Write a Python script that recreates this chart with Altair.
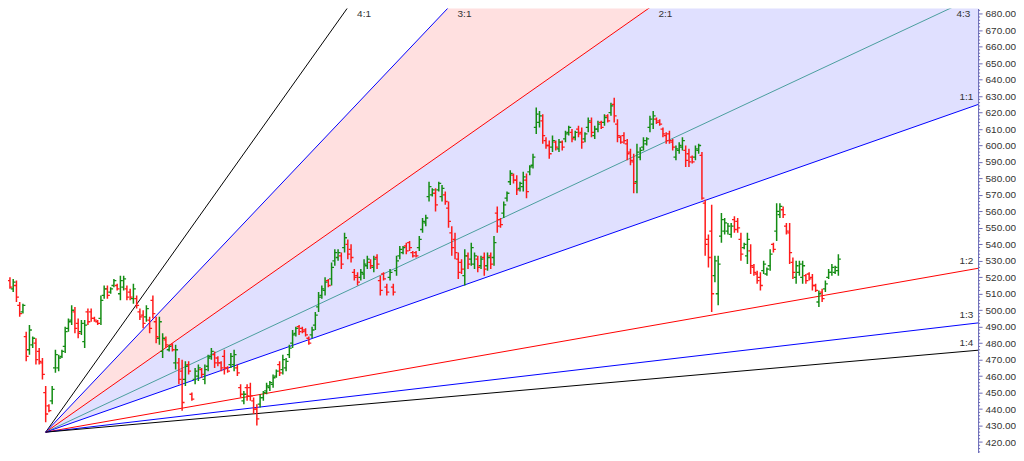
import altair as alt
import pandas as pd

# ---- OHLC data (price), one entry per daily bar ----
highs = [520,519,518,505,504,487,491,484,483,477,471,454,443,454,476,473,476,490,495,503,
         502,495,494,494,501,501,496,494,509,515,515,514,519,516,521,521,515,513,516,509,
         501,500,503,496,509,496,496,486,484,479,480,479,471,470,469,469,450,465,467,465,
         467,473,477,475,472,469,476,466,474,476,467,455,451,455,456,447,443,449,451,456,
         457,461,464,469,473,471,479,488,490,491,490,489,484,490,499,511,515,520,519,529,
         537,537,535,547,543,540,525,523,525,531,533,531,533,534,521,523,516,525,516,533,
         539,539,541,542,536,536,545,556,558,578,574,574,578,576,572,566,551,547,535,531,
         537,535,541,535,533,533,535,535,535,545,563,556,566,572,585,583,582,578,584,583,
         588,595,623,621,619,605,603,606,603,604,603,609,612,610,609,612,611,608,617,617,
         612,615,615,619,619,626,629,616,606,608,604,598,595,601,599,605,605,618,621,617,
         616,611,608,609,604,600,602,605,600,598,594,600,601,596,567,546,564,533,533,559,
         556,553,553,557,556,547,541,547,540,528,524,523,530,526,537,541,565,565,563,553,
         553,532,530,530,530,522,523,522,516,512,513,518,525,528,527,534]
lows = [513,511,505,496,498,469,473,477,467,467,458,432,438,443,462,463,471,474,487,491,
        486,483,485,477,491,493,493,491,491,507,507,510,514,512,506,512,506,506,504,501,
        494,489,493,486,495,480,479,471,477,475,475,464,455,439,454,461,445,455,457,459,
        455,463,470,465,466,463,461,462,465,463,460,447,443,445,445,437,430,441,445,449,
        451,453,459,460,461,463,471,477,484,485,486,484,479,483,488,499,507,509,514,515,
        527,530,525,535,531,529,518,515,518,519,525,525,523,525,509,518,509,518,509,521,
        531,534,534,536,532,532,536,547,551,566,569,560,572,566,564,550,533,531,519,522,
        515,525,527,525,523,525,521,524,525,527,547,550,556,566,576,577,570,572,572,568,
        582,586,607,611,601,598,592,596,597,596,597,602,606,602,603,605,598,602,608,605,
        604,608,610,612,614,618,614,602,601,601,591,588,571,571,591,597,600,608,610,613,
        612,605,601,601,597,591,595,597,587,587,589,591,595,567,533,526,499,517,503,541,
        546,546,544,547,547,530,537,528,522,521,516,512,522,521,524,535,542,556,556,546,
        528,519,516,521,516,516,518,512,511,502,505,511,519,521,522,521]
opens = [518,513,515,503,499,484,476,479,480,475,468,450,442,445,465,465,472,478,489,494,
         499,492,487,481,499,499,495,493,495,509,513,511,515,515,510,514,513,511,507,507,
         499,497,496,494,506,493,483,475,482,476,479,468,468,463,458,467,449,458,460,464,
         458,466,472,473,471,468,472,465,467,467,465,453,445,453,453,445,440,443,447,451,
         453,455,460,467,464,465,473,480,486,490,489,488,483,485,491,502,509,512,518,519,
         530,532,533,538,540,537,523,521,520,522,527,529,526,532,518,522,514,520,514,524,
         533,535,539,541,535,535,538,549,553,569,570,571,573,569,570,562,547,543,531,529,
         521,533,531,528,531,527,532,527,533,532,559,555,559,568,578,582,579,574,575,579,
         584,588,611,614,615,603,600,599,602,598,602,604,608,608,605,610,608,604,611,614,
         606,610,614,614,618,620,625,613,605,606,601,596,590,578,593,599,601,611,613,616,
         615,610,606,607,602,593,597,599,597,595,593,593,597,594,565,543,548,521,510,545,
         548,548,546,555,554,543,538,533,536,526,522,520,524,522,527,540,548,558,561,551,
         547,529,520,523,520,521,522,520,515,505,511,513,520,523,523,524]
closes = [514,517,508,498,503,472,488,483,470,469,461,437,439,452,473,471,475,487,493,500,
          489,486,492,491,493,495,494,492,506,513,509,513,518,513,518,519,508,508,513,503,
          496,492,501,489,498,484,493,483,479,478,476,476,458,444,466,463,446,463,465,461,
          464,471,475,468,468,465,465,463,472,473,462,449,449,448,448,440,434,447,450,454,
          456,459,463,462,470,469,477,485,489,487,487,485,480,488,497,508,513,517,515,526,
          535,535,528,544,534,532,520,517,523,528,531,527,531,528,512,519,511,523,511,530,
          537,538,536,538,533,533,543,554,556,575,573,564,577,574,566,554,538,535,523,525,
          533,528,538,533,526,531,525,532,528,541,551,552,564,571,583,579,573,577,581,572,
          587,593,619,618,606,600,595,603,599,602,599,607,611,604,608,607,602,607,615,608,
          610,613,611,617,615,624,618,606,602,603,595,591,577,596,597,603,604,616,618,614,
          613,607,603,603,599,598,600,603,591,590,590,598,600,568,540,532,510,530,528,555,
          553,551,551,549,550,534,540,543,527,523,518,515,528,525,534,537,560,563,558,548,
          535,523,527,528,527,518,519,515,512,510,507,516,523,526,526,531]

# ---- Gann fan ----
fan_origin_bar = 11
fan_origin_price = 426
unit_slope = 0.693          # price per bar of the 1:1 line
fan_names = ["4:1", "3:1", "2:1", "4:3", "1:1", "1:2", "1:3", "1:4"]
fan_ratios = [4.0, 3.0, 2.0, 4 / 3, 1.0, 0.5, 1 / 3, 0.25]
fan_colors = ["#000000", "#0000ff", "#ff0000", "#4a9e9e", "#0000ff", "#ff0000", "#0000ff", "#000000"]

price_ticks = list(range(420, 690, 10))
minor_ticks = [p for p in range(414, 684, 2) if p % 10 != 0]

X_MIN, X_MAX = -0.6, 298
Y_MIN, Y_MAX = 413.6, 683.2
W, H = 972, 445

xs = alt.Scale(domain=[X_MIN, X_MAX], nice=False, zero=False)
ys = alt.Scale(domain=[Y_MIN, Y_MAX], nice=False, zero=False)


def fan_price(ratio, bar):
    return fan_origin_price + ratio * unit_slope * (bar - fan_origin_bar)


rows = []
for name, r in zip(fan_names, fan_ratios):
    for b in (fan_origin_bar, X_MAX):
        rows.append({"name": name, "bar": b, "price": fan_price(r, b)})
lines_df = pd.DataFrame(rows)

band_rows = []
for band, (ra, rb) in {"pink": (3.0, 2.0), "lav": (2.0, 1.0)}.items():
    for b in (fan_origin_bar, X_MAX):
        band_rows.append({"band": band, "bar": b, "top": fan_price(ra, b), "bot": fan_price(rb, b)})
bands_df = pd.DataFrame(band_rows)

lab_rows = []
for name, r in zip(fan_names, fan_ratios):
    end_p = fan_price(r, X_MAX)
    if end_p > Y_MAX:
        cross = fan_origin_bar + (Y_MAX - fan_origin_price) / (r * unit_slope)
        lab_rows.append({"name": name, "bar": min(cross + 5.2, X_MAX - 4.5), "price": Y_MAX - 3.2})
    else:
        lab_rows.append({"name": name, "bar": X_MAX - 3.6, "price": end_p + 4.6})
labels_df = pd.DataFrame(lab_rows)

n = len(highs)
df = pd.DataFrame({"i": list(range(n)), "high": highs, "low": lows, "open": opens, "close": closes})
df["dir"] = ["up" if c >= o else "down" for o, c in zip(opens, closes)]

yaxis = alt.Axis(orient="right", values=price_ticks, format=".2f", title=None, grid=False,
                 tickSize=4, tickColor="#6a6ab8", domainColor="#6a6ab8", labelColor="#333333",
                 labelFont="Liberation Sans", labelFontSize=10, labelPadding=3)


def Y(field):
    return alt.Y(field, scale=ys, axis=yaxis)


def X(field):
    return alt.X(field, scale=xs, axis=None)


pink = alt.Chart(bands_df).transform_filter(alt.datum.band == "pink").mark_area(
    color="#ffe0e0", opacity=1, clip=True
).encode(x=X("bar:Q"), y=Y("top:Q"), y2="bot:Q")

lav = alt.Chart(bands_df).transform_filter(alt.datum.band == "lav").mark_area(
    color="#e0e0ff", opacity=1, clip=True
).encode(x=X("bar:Q"), y=Y("top:Q"), y2="bot:Q")

fan = alt.Chart(lines_df).mark_line(strokeWidth=1, clip=True).encode(
    x=X("bar:Q"), y=Y("price:Q"), detail="name:N",
    color=alt.Color("name:N", scale=alt.Scale(domain=fan_names, range=fan_colors), legend=None),
)

labels = alt.Chart(labels_df).mark_text(
    fontSize=10, font="Liberation Sans", color="#333333", align="center", baseline="middle"
).encode(x=X("bar:Q"), y=Y("price:Q"), text="name:N")

bar_color = alt.Color("dir:N", scale=alt.Scale(domain=["up", "down"], range=["#138c13", "#ff1a1a"]), legend=None)

hl = alt.Chart(df).mark_rule(strokeWidth=1.5, clip=True).encode(
    x=X("i:Q"), y=Y("low:Q"), y2="high:Q", color=bar_color,
)
op = alt.Chart(df).transform_calculate(xl="datum.i - 0.75").mark_rule(strokeWidth=1.3, clip=True).encode(
    x=X("xl:Q"), x2="i:Q", y=Y("open:Q"), color=bar_color,
)
cl = alt.Chart(df).transform_calculate(xr="datum.i + 0.75").mark_rule(strokeWidth=1.3, clip=True).encode(
    x=X("i:Q"), x2="xr:Q", y=Y("close:Q"), color=bar_color,
)

minor = alt.Chart(pd.DataFrame({"p": minor_ticks})).mark_rule(color="#6a6ab8", strokeWidth=1).encode(
    x=alt.value(W), x2=alt.value(W + 2), y=Y("p:Q"),
)

chart = alt.layer(pink, lav, fan, labels, hl, op, cl, minor).resolve_scale(
    color="independent"
).properties(width=W, height=H, padding=0, background="white").configure_view(stroke=None)

chart.save("out.html", embed_options={"renderer": "svg", "actions": False})
